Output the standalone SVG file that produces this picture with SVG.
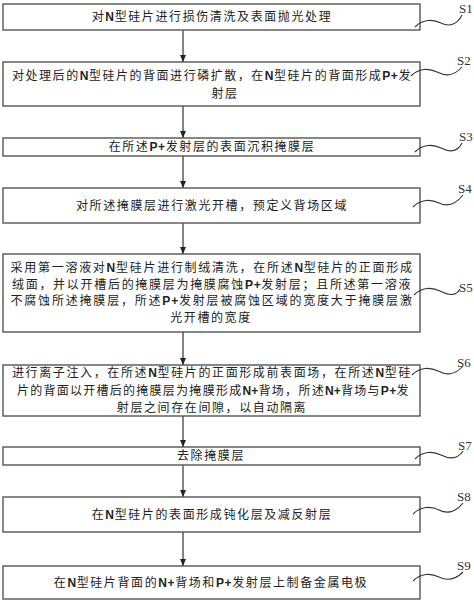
<svg xmlns="http://www.w3.org/2000/svg" width="474" height="602" viewBox="0 0 474 602">
<style>
.box{fill:#fff;stroke:#555;stroke-width:1.4}
.t{font-family:"Noto Sans CJK SC","Noto Sans CJK JP",sans-serif;font-size:12px;fill:#222;letter-spacing:1.6px;text-anchor:middle}
.b{font-family:"Liberation Sans",Arial,sans-serif;font-weight:bold;letter-spacing:0.6px}
.lab{font-family:"Liberation Serif","Times New Roman",serif;font-size:13px;fill:#333}
.lead{fill:none;stroke:#333;stroke-width:1.1}
.arr{stroke:#333;stroke-width:1.2;fill:none;marker-end:url(#ah)}
</style>
<defs>
<marker id="ah" markerUnits="userSpaceOnUse" markerWidth="8" markerHeight="7" refX="7" refY="3" orient="auto">
<path d="M0,0 L7,3 L0,6 z" fill="#222"/>
</marker>
</defs>
<g id="connectors">
<line class="arr" x1="183" y1="30" x2="183" y2="62"/>
<line class="arr" x1="183" y1="106" x2="183" y2="138"/>
<line class="arr" x1="183" y1="156" x2="183" y2="188"/>
<line class="arr" x1="183" y1="223" x2="183" y2="254"/>
<line class="arr" x1="183" y1="332" x2="183" y2="365"/>
<line class="arr" x1="183" y1="416" x2="183" y2="447"/>
<line class="arr" x1="183" y1="465" x2="183" y2="497"/>
<line class="arr" x1="183" y1="532" x2="183" y2="566"/>
</g>
<g id="S1">
<rect class="box" x="3" y="4" width="417" height="26"/>
<text class="t" x="212" y="21">对<tspan class="b">N</tspan>型硅片进行损伤清洗及表面抛光处理</text>
<path class="lead" d="M415 27 c8 -8 18 -8 26 -4 s16 2 21 -8"/>
<text class="lab" x="459" y="13">S1</text>
</g>
<g id="S2">
<rect class="box" x="3" y="62" width="417" height="44"/>
<text class="t" x="212" y="80" textLength="400" lengthAdjust="spacing">对处理后的<tspan class="b">N</tspan>型硅片的背面进行磷扩散，在<tspan class="b">N</tspan>型硅片的背面形成<tspan class="b">P+</tspan>发</text>
<text class="t" x="225" y="98">射层</text>
<path class="lead" d="M411 76 c8 -8 18 -8 26 -4 s16 5 25 -5"/>
<text class="lab" x="457" y="65">S2</text>
</g>
<g id="S3">
<rect class="box" x="3" y="138" width="417" height="18"/>
<text class="t" x="212" y="151">在所述<tspan class="b">P+</tspan>发射层的表面沉积掩膜层</text>
<path class="lead" d="M415 152 c8 -8 18 -8 26 -4 s16 5 21 -5"/>
<text class="lab" x="459" y="141">S3</text>
</g>
<g id="S4">
<rect class="box" x="3" y="188" width="417" height="35"/>
<text class="t" x="212" y="210">对所述掩膜层进行激光开槽，预定义背场区域</text>
<path class="lead" d="M413 207 c8 -8 18 -8 26 -4 s16 2 24 -8"/>
<text class="lab" x="458" y="193">S4</text>
</g>
<g id="S5">
<rect class="box" x="3" y="254" width="417" height="78"/>
<text class="t" x="212" y="272" textLength="403" lengthAdjust="spacing">采用第一溶液对<tspan class="b">N</tspan>型硅片进行制绒清洗，在所述<tspan class="b">N</tspan>型硅片的正面形成</text>
<text class="t" x="212" y="288.5" textLength="400" lengthAdjust="spacing">绒面，并以开槽后的掩膜层为掩膜腐蚀<tspan class="b">P+</tspan>发射层；且所述第一溶液</text>
<text class="t" x="212" y="305" textLength="403" lengthAdjust="spacing">不腐蚀所述掩膜层，所述<tspan class="b">P+</tspan>发射层被腐蚀区域的宽度大于掩膜层激</text>
<text class="t" x="211" y="322">光开槽的宽度</text>
<path class="lead" d="M414 295 c8 -8 18 -8 26 -4 s16 6 20 -2"/>
<text class="lab" x="459" y="292">S5</text>
</g>
<g id="S6">
<rect class="box" x="3" y="365" width="417" height="51"/>
<text class="t" x="212" y="377" textLength="400" lengthAdjust="spacing">进行离子注入，在所述<tspan class="b">N</tspan>型硅片的正面形成前表面场，在所述<tspan class="b">N</tspan>型硅</text>
<text class="t" x="213.5" y="394.5" textLength="393" lengthAdjust="spacing">片的背面以开槽后的掩膜层为掩膜形成<tspan class="b">N+</tspan>背场，所述<tspan class="b">N+</tspan>背场与<tspan class="b">P+</tspan>发</text>
<text class="t" x="212" y="412">射层之间存在间隙，以自动隔离</text>
<path class="lead" d="M412 375 c8 -8 18 -8 26 -4 s16 5 25 -5"/>
<text class="lab" x="457" y="367">S6</text>
</g>
<g id="S7">
<rect class="box" x="3" y="447" width="417" height="18"/>
<text class="t" x="211" y="460">去除掩膜层</text>
<path class="lead" d="M415 459 c8 -8 18 -8 26 -4 s16 5 22 -4"/>
<text class="lab" x="458" y="450">S7</text>
</g>
<g id="S8">
<rect class="box" x="3" y="497" width="417" height="35"/>
<text class="t" x="212" y="518.5">在<tspan class="b">N</tspan>型硅片的表面形成钝化层及减反射层</text>
<path class="lead" d="M413 514 c8 -8 18 -8 26 -4 s16 3 24 -7"/>
<text class="lab" x="457" y="501">S8</text>
</g>
<g id="S9">
<rect class="box" x="3" y="566" width="417" height="33"/>
<text class="t" x="211" y="586.5">在<tspan class="b">N</tspan>型硅片背面的<tspan class="b">N+</tspan>背场和<tspan class="b">P+</tspan>发射层上制备金属电极</text>
<path class="lead" d="M413 581 c8 -8 18 -8 26 -4 s16 3 24 -5"/>
<text class="lab" x="457" y="570">S9</text>
</g>
</svg>
